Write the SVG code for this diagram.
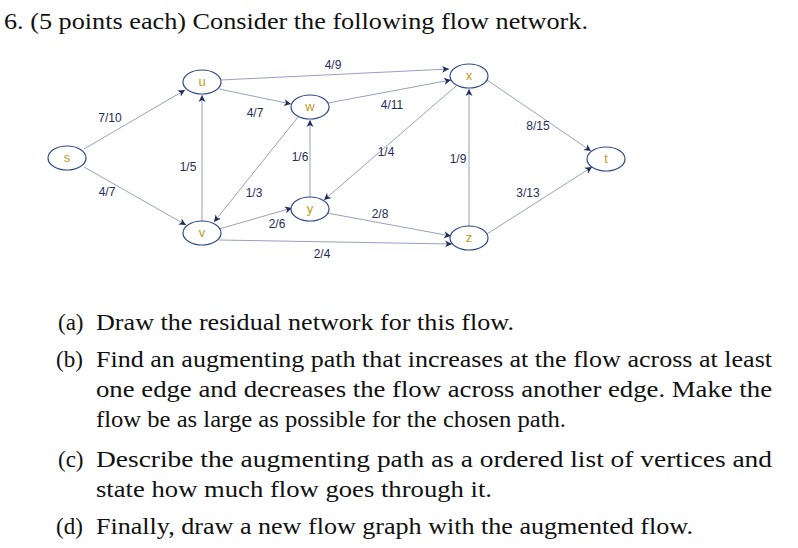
<svg xmlns="http://www.w3.org/2000/svg" width="798" height="548" viewBox="0 0 798 548">
<style>
.n{fill:#fff;stroke:#2f4a8a;stroke-width:1.2}
.nl{font-family:"Liberation Sans",Arial,sans-serif;font-size:13px;fill:#c49a1c;text-anchor:middle}
.e{stroke:#8a96b8;stroke-width:0.9;fill:none;marker-end:url(#a)}
.el{font-family:"Liberation Sans",Arial,sans-serif;font-size:12px;fill:#1f2d5a;text-anchor:middle}
.t{font-family:"Liberation Serif","Times New Roman",serif;font-size:23px;fill:#111}
</style>
<defs><marker id="a" markerWidth="8" markerHeight="8" refX="7" refY="4" orient="auto" markerUnits="userSpaceOnUse"><path d="M0,0.5 L7,4 L0,7.5 L2,4 Z" fill="#1f2d5a"/></marker></defs>
<rect width="798" height="548" fill="#fff"/>
<text class="t" x="4" y="29" textLength="584" lengthAdjust="spacingAndGlyphs">6. (5 points each) Consider the following flow network.</text>
<g id="edges">
<line class="e" x1="84" y1="149" x2="185" y2="90"/>
<line class="e" x1="84" y1="167" x2="186" y2="225"/>
<line class="e" x1="221" y1="80" x2="449" y2="69"/>
<line class="e" x1="219" y1="89" x2="291" y2="104"/>
<line class="e" x1="328" y1="103" x2="451" y2="80"/>
<line class="e" x1="298" y1="117" x2="214" y2="222"/>
<line class="e" x1="202" y1="221" x2="202" y2="95"/>
<line class="e" x1="310" y1="197" x2="310" y2="120"/>
<line class="e" x1="456" y1="86" x2="324" y2="200"/>
<line class="e" x1="219" y1="229" x2="292" y2="208"/>
<line class="e" x1="327" y1="213" x2="451" y2="236"/>
<line class="e" x1="219" y1="240" x2="452" y2="244"/>
<line class="e" x1="469" y1="226" x2="469" y2="89"/>
<line class="e" x1="487" y1="80" x2="591" y2="151"/>
<line class="e" x1="487" y1="234" x2="592" y2="167"/>
</g>
<g id="labels">
<text class="el" x="110" y="122">7/10</text>
<text class="el" x="107" y="196">4/7</text>
<text class="el" x="333" y="69">4/9</text>
<text class="el" x="255" y="117">4/7</text>
<text class="el" x="392" y="109">4/11</text>
<text class="el" x="188" y="171">1/5</text>
<text class="el" x="300" y="161">1/6</text>
<text class="el" x="254" y="197">1/3</text>
<text class="el" x="386" y="156">1/4</text>
<text class="el" x="458" y="163">1/9</text>
<text class="el" x="538" y="130">8/15</text>
<text class="el" x="528" y="197">3/13</text>
<text class="el" x="277" y="228">2/6</text>
<text class="el" x="380" y="218">2/8</text>
<text class="el" x="322" y="258">2/4</text>
</g>
<g id="s"><ellipse class="n" cx="67" cy="158" rx="19" ry="12"/><text class="nl" x="67" y="162">s</text></g>
<g id="u"><ellipse class="n" cx="202" cy="82" rx="19" ry="12"/><text class="nl" x="202" y="86">u</text></g>
<g id="w"><ellipse class="n" cx="310" cy="107" rx="19" ry="12"/><text class="nl" x="310" y="111">w</text></g>
<g id="v"><ellipse class="n" cx="202" cy="233" rx="19" ry="12"/><text class="nl" x="202" y="237">v</text></g>
<g id="y"><ellipse class="n" cx="310" cy="209" rx="19" ry="12"/><text class="nl" x="310" y="213">y</text></g>
<g id="x"><ellipse class="n" cx="469" cy="76" rx="19" ry="12"/><text class="nl" x="469" y="80">x</text></g>
<g id="z"><ellipse class="n" cx="469" cy="238" rx="19" ry="12"/><text class="nl" x="469" y="242">z</text></g>
<g id="t"><ellipse class="n" cx="606" cy="159" rx="19" ry="12"/><text class="nl" x="606" y="163">t</text></g>
<g id="questions">
<text class="t" x="58" y="330">(a)</text>
<text class="t" x="96" y="330" textLength="418" lengthAdjust="spacingAndGlyphs">Draw the residual network for this flow.</text>
<text class="t" x="56" y="367">(b)</text>
<text class="t" x="96" y="367" textLength="676" lengthAdjust="spacingAndGlyphs">Find an augmenting path that increases at the flow across at least</text>
<text class="t" x="96" y="397" textLength="676" lengthAdjust="spacingAndGlyphs">one edge and decreases the flow across another edge.  Make the</text>
<text class="t" x="96" y="427" textLength="470" lengthAdjust="spacingAndGlyphs">flow be as large as possible for the chosen path.</text>
<text class="t" x="58" y="467">(c)</text>
<text class="t" x="96" y="467" textLength="676" lengthAdjust="spacingAndGlyphs">Describe the augmenting path as a ordered list of vertices and</text>
<text class="t" x="96" y="497" textLength="396" lengthAdjust="spacingAndGlyphs">state how much flow goes through it.</text>
<text class="t" x="56" y="534">(d)</text>
<text class="t" x="96" y="534" textLength="597" lengthAdjust="spacingAndGlyphs">Finally, draw a new flow graph with the augmented flow.</text>
</g>
</svg>
